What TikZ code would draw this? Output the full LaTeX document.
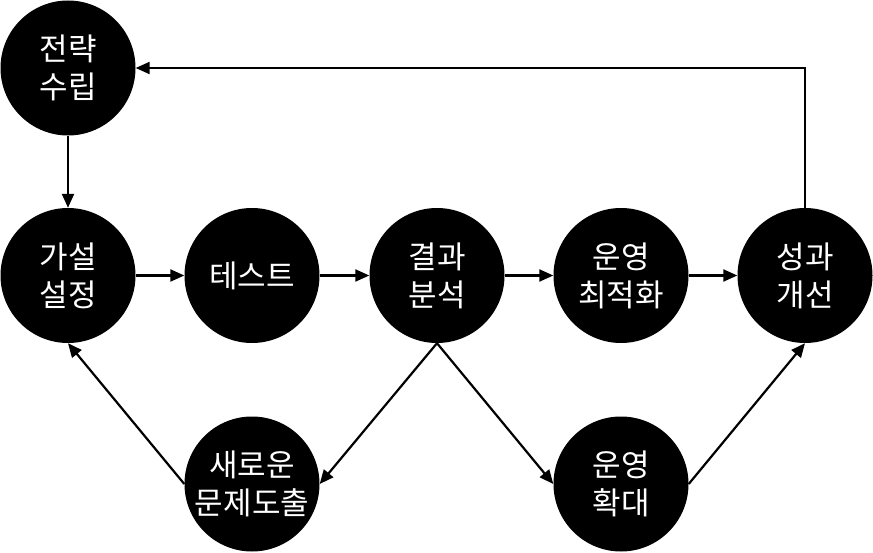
\documentclass[tikz,border=0pt]{standalone}
\usepackage{fontspec}
\setmainfont{Noto Sans CJK KR}
\usetikzlibrary{arrows.meta}
\begin{document}
\begin{tikzpicture}[x=1pt,y=-1pt,
  stage/.style={circle,fill=black,text=white,minimum size=135pt,inner sep=0pt,align=center,font=\fontsize{31}{38}\selectfont},
  flow/.style={-{Triangle[length=14pt,width=12pt]},line width=2.2pt}]
\useasboundingbox (0,0) rectangle (873,553);
\node[stage] (js) at (68,68) {전략\\수립};
\node[stage] (gs) at (68,275.5) {가설\\설정};
\node[stage] (te) at (252,275.5) {테스트};
\node[stage] (gb) at (437,275.5) {결과\\분석};
\node[stage] (uc) at (621,275.5) {운영\\최적화};
\node[stage] (sg) at (805,275.5) {성과\\개선};
\node[stage] (sm) at (252,484) {새로운\\문제도출};
\node[stage] (uh) at (621,484) {운영\\확대};

\draw[flow] (js.south) -- (gs.north);
\draw[flow] (gs.east) -- (te.west);
\draw[flow] (te.east) -- (gb.west);
\draw[flow] (gb.east) -- (uc.west);
\draw[flow] (uc.east) -- (sg.west);
\draw[flow] (sg.north) |- (js.east);
\draw[flow] (gb.south) -- (sm.east);
\draw[flow] (gb.south) -- (uh.west);
\draw[flow] (sm.west) -- (gs.south);
\draw[flow] (uh.east) -- (sg.south);
\end{tikzpicture}
\end{document}
